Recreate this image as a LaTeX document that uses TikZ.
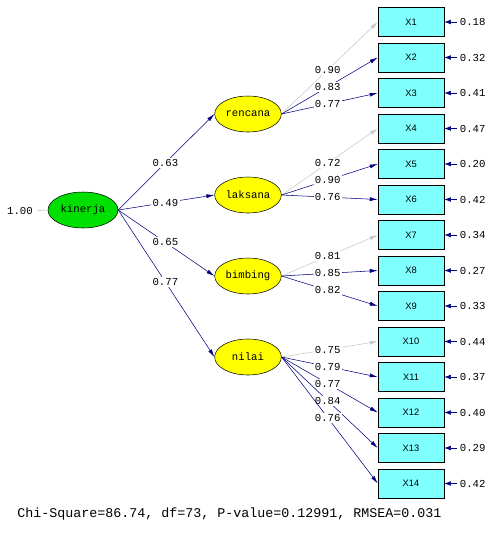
\documentclass[tikz,border=0pt]{standalone}
\usepackage{fontspec}
\setmainfont{Liberation Mono}
\newfontfamily\boxfont{Liberation Sans}
\usetikzlibrary{shapes.geometric,arrows.meta}
\definecolor{navy}{RGB}{0,0,128}
\definecolor{obscyan}{RGB}{128,255,255}
\definecolor{latyellow}{RGB}{255,255,0}
\definecolor{latgreen}{RGB}{0,224,0}
\begin{document}
\begin{tikzpicture}[x=0.75pt, y=-0.75pt, font=\fontsize{8}{9}\selectfont,
  obs/.style={draw, fill=obscyan, minimum width=49.5pt, minimum height=21.75pt, inner sep=0pt, font=\boxfont\fontsize{7}{8}\selectfont},
  lat/.style={ellipse, draw, fill=latyellow, minimum width=50pt, minimum height=27pt, inner sep=0pt},
  loadpath/.style={navy, -{Latex[length=6pt,width=3pt]}},
  fixpath/.style={gray!45, -{Latex[length=6pt,width=3pt]}},
  coef/.style={fill=white, text=black, inner sep=1pt}]
  \useasboundingbox (0,0) rectangle (500,536);
  % latent variables
  \node[lat, fill=latgreen, minimum width=52.5pt] (kinerja) at (83,210) {kinerja};
  \node[lat] (rencana) at (248,114) {rencana};
  \node[lat] (laksana) at (248,195) {laksana};
  \node[lat] (bimbing) at (248,276) {bimbing};
  \node[lat] (nilai) at (248,357) {nilai};
  \node (one) at (20,211) {1.00};
  \draw[gray!60] (one) -- (kinerja.west);
  % indicators and error variances
  \foreach \i/\e in {1/0.18,2/0.32,3/0.41,4/0.47,5/0.20,6/0.42,7/0.34,8/0.27,9/0.33,10/0.44,11/0.37,12/0.40,13/0.29,14/0.42} {
    \node[obs] (x\i) at (411,{22+35.5*(\i-1)}) {X\i};
    \node[anchor=west, inner sep=2pt] (e\i) at (457,{22+35.5*(\i-1)}) {\e};
    \draw[navy, -{Latex[length=5pt,width=3.5pt]}] (e\i.west) -- (x\i.east);
  }
  \foreach \f/\v in {rencana/0.63,laksana/0.49,bimbing/0.65,nilai/0.77}
    \draw[loadpath] (kinerja.east) -- node[coef, pos=0.49] {\v} (\f.west);
  \foreach \f/\i/\v/\c in {rencana/1/0.90/fixpath, rencana/2/0.83/loadpath, rencana/3/0.77/loadpath,
      laksana/4/0.72/fixpath, laksana/5/0.90/loadpath, laksana/6/0.76/loadpath,
      bimbing/7/0.81/fixpath, bimbing/8/0.85/loadpath, bimbing/9/0.82/loadpath,
      nilai/10/0.75/fixpath, nilai/11/0.79/loadpath, nilai/12/0.77/loadpath, nilai/13/0.84/loadpath, nilai/14/0.76/loadpath}
    \draw[\c] (\f.east) -- node[coef, pos=0.48] {\v} (x\i.west);
  \node[anchor=west, inner sep=0pt, font=\fontsize{10}{11}\selectfont] (fit) at (17,514) {Chi-Square=86.74, df=73, P-value=0.12991, RMSEA=0.031};
\end{tikzpicture}
\end{document}
